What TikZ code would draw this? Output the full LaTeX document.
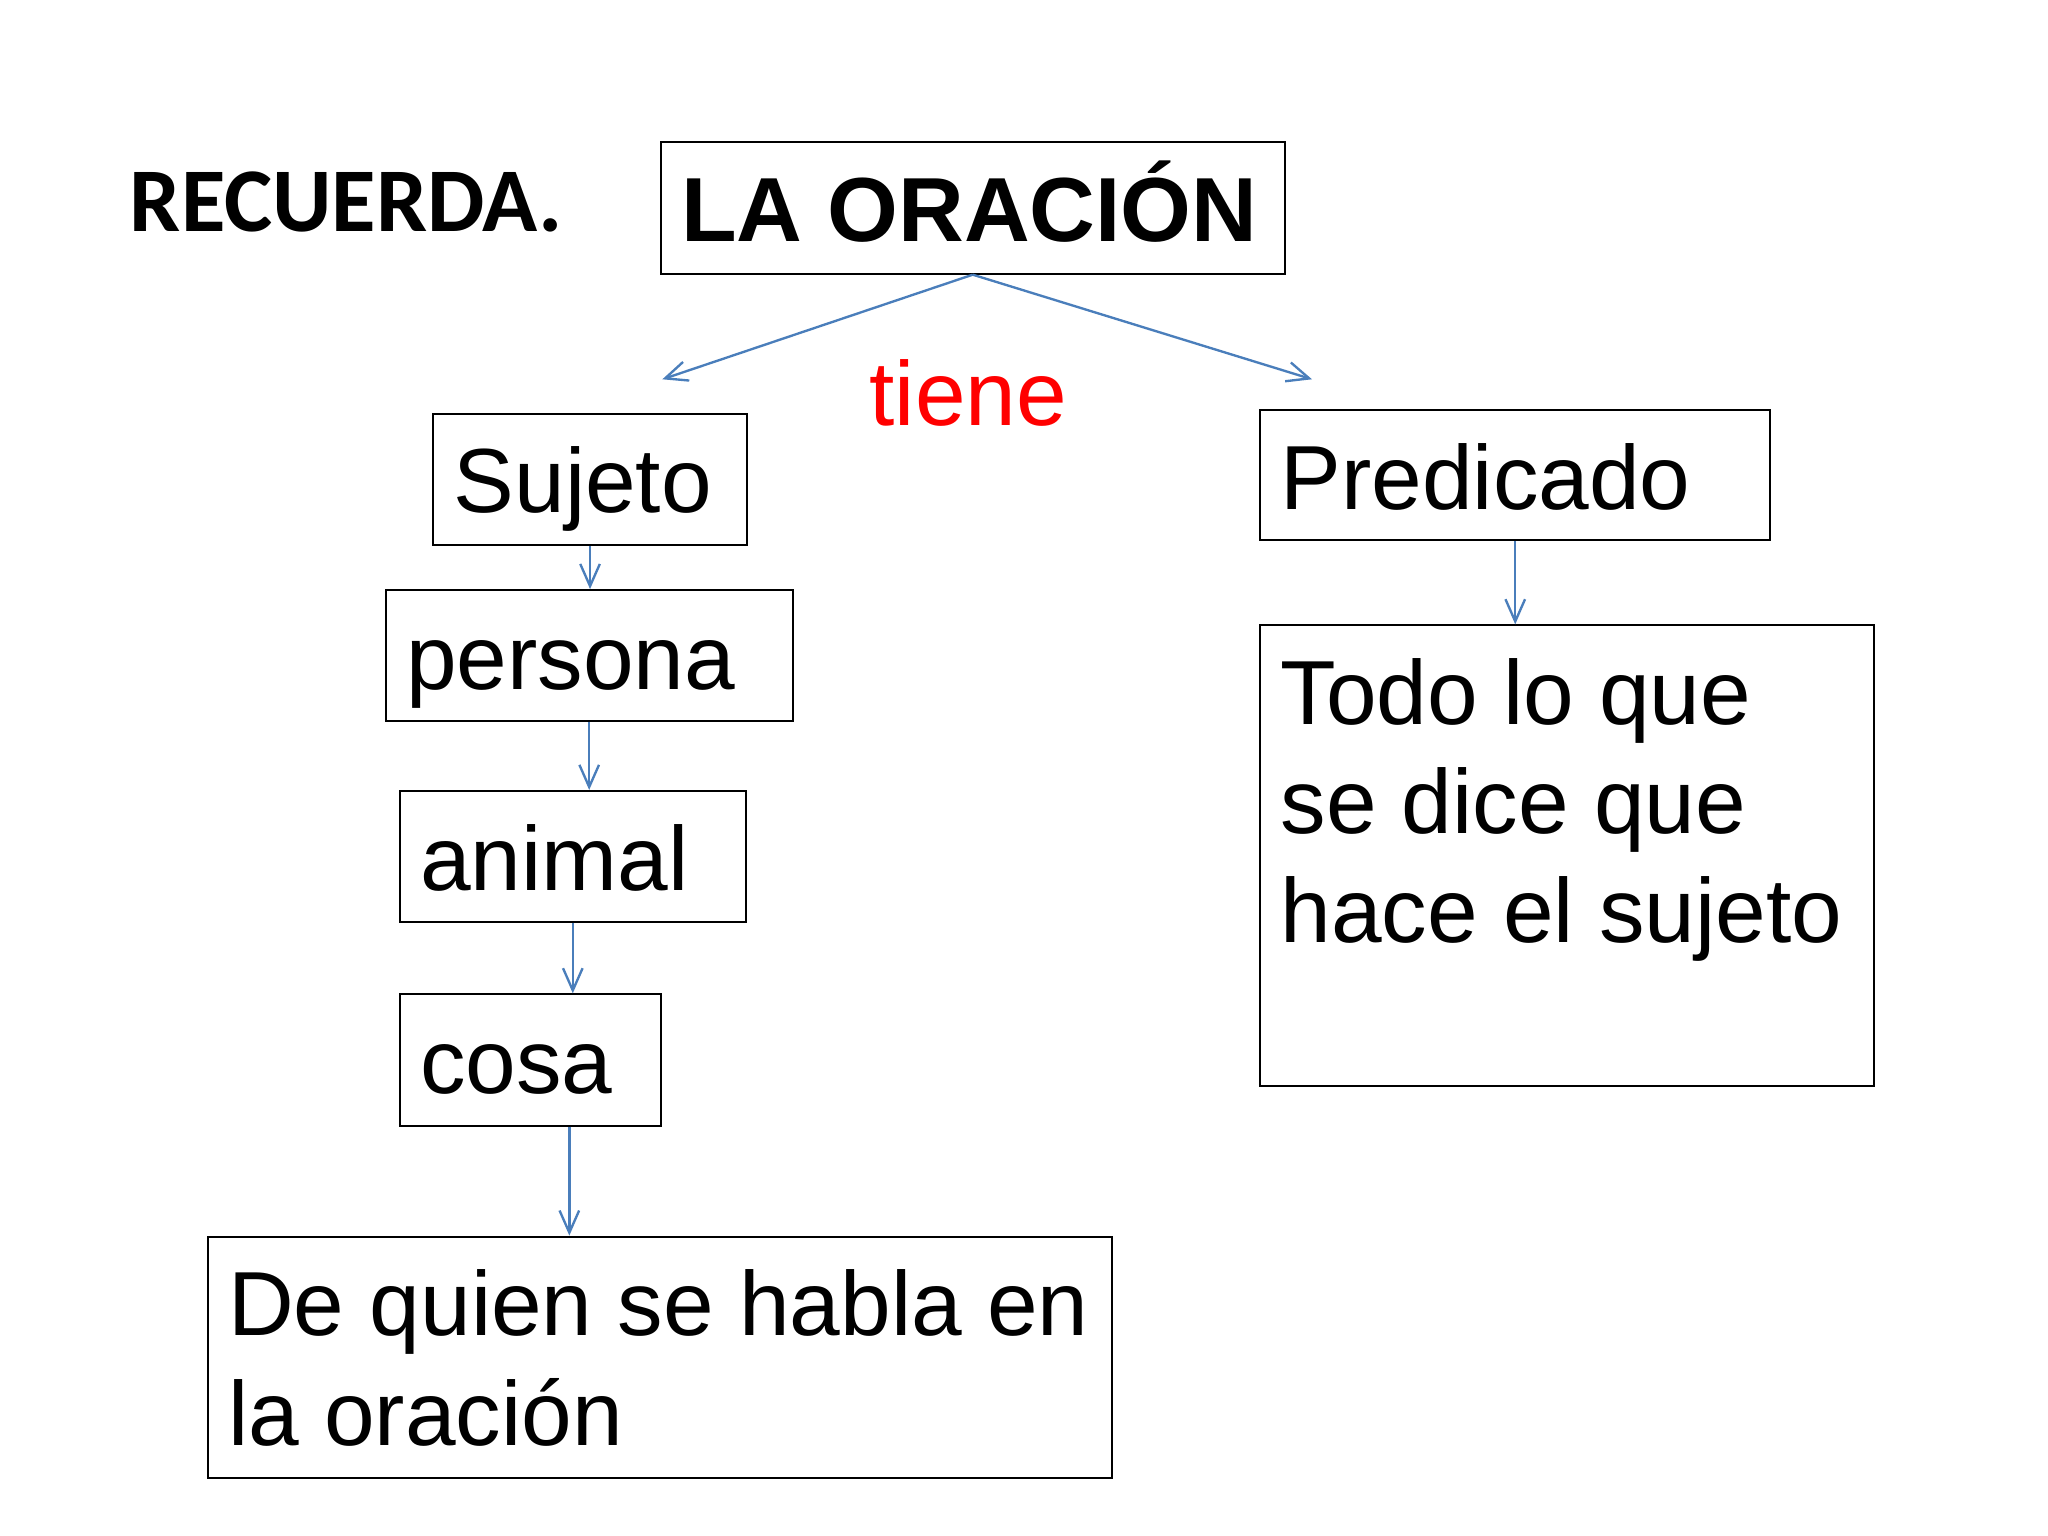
\documentclass[tikz,border=0pt]{standalone}
\usepackage{fontspec}
\setmainfont{Liberation Sans}
\newfontfamily\recfont{Carlito}
\usetikzlibrary{arrows.meta}
\definecolor{conn}{HTML}{4A7EBB}
\newcommand\bxt[3]{\parbox[b][#2][t]{#1}{\raggedright\leftskip=7.85pt\relax\rule{0pt}{38pt}#3}}
\tikzset{
  box/.style={draw=black, line width=0.75pt, inner sep=0pt, anchor=north west,
    font=\fontsize{34.85}{41.8}\selectfont},
  arr/.style={draw=conn, line width=0.9pt, -{Straight Barb[length=8.5pt,width=7.5pt]}},
  plain/.style={inner sep=0pt, anchor=base west, font=\fontsize{34.85}{41.8}\selectfont}
}
\begin{document}
\begin{tikzpicture}[x=0.5pt,y=-0.5pt]
\useasboundingbox (0,0) rectangle (1568,1176);
\node[plain] (recuerda) at (99,177.4) {\recfont\bfseries RECUERDA.};
\node[box] (oracion) at (505,108.3) {\bxt{239pt}{50.25pt}{\bfseries LA ORACIÓN}};
\node[plain, text=red] (tiene) at (665.3,325.4) {tiene};
\node[box] (sujeto) at (331,316) {\bxt{120pt}{50.25pt}{Sujeto}};
\node[box] (predicado) at (964,313) {\bxt{195.35pt}{50pt}{Predicado}};
\node[box] (persona) at (294.6,451) {\bxt{155.75pt}{50pt}{persona}};
\node[box] (animal) at (305.3,604.8) {\bxt{132.5pt}{50pt}{animal}};
\node[box] (cosa) at (305.3,760.5) {\bxt{99.85pt}{50.25pt}{cosa}};
\node[box] (dequien) at (158.3,946) {\bxt{346pt}{92.3pt}{De quien se habla en\\la oración}};
\node[box] (todo) at (964,478) {\bxt{234.85pt}{176.35pt}{Todo lo que\\se dice que\\hace el sujeto}};
\coordinate (ls) at (507.1,290.4);
\coordinate (rs) at (1004.5,290.4);
\coordinate (cx) at ([xshift=15pt]cosa.south);
\draw[arr] (oracion.south) -- (ls);
\draw[arr] (oracion.south) -- (rs);
\draw[arr] (sujeto.south) -- (sujeto.south |- persona.north);
\draw[arr] (persona.south) -- (persona.south |- animal.north);
\draw[arr] (animal.south) -- (animal.south |- cosa.north);
\draw[arr] (cx) -- (cx |- dequien.north);
\draw[arr] (predicado.south) -- (predicado.south |- todo.north);
\end{tikzpicture}
\end{document}
